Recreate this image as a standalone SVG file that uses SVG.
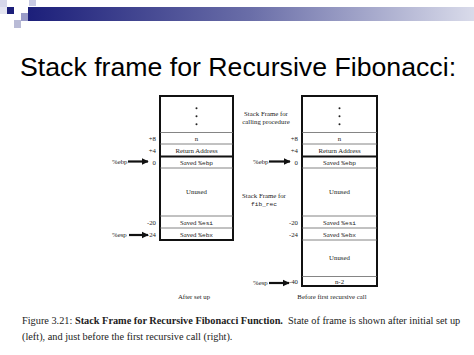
<svg xmlns="http://www.w3.org/2000/svg" width="474" height="355" viewBox="0 0 474 355">
<defs>
<linearGradient id="bar" x1="0" y1="0" x2="1" y2="0">
<stop offset="0" stop-color="#1c1f7a"/>
<stop offset="0.5" stop-color="#6a6ea8"/>
<stop offset="1" stop-color="#d9dbea"/>
</linearGradient>
<marker id="ah" viewBox="0 0 10 10" refX="9" refY="5" markerWidth="3.2" markerHeight="3.2" orient="auto" markerUnits="strokeWidth">
<path d="M0,0 L10,5 L0,10 z" fill="#111"/>
</marker>
<style>
.box{fill:#fff;stroke:#111;stroke-width:2}
.thin{stroke:#666;stroke-width:0.8}
.thick{stroke:#111;stroke-width:1.8}
.cell{font-family:"Liberation Serif",serif;font-size:6.8px;fill:#222;text-anchor:middle}
.reg{font-family:"Liberation Mono",monospace;font-size:6.2px}
.off{font-family:"Liberation Serif",serif;font-size:6.8px;fill:#222;text-anchor:end}
.lbl{font-family:"Liberation Serif",serif;font-size:6.8px;fill:#222}
.arr{stroke:#111;stroke-width:2.2;fill:none;marker-end:url(#ah)}
.dot{fill:#222}
</style>
</defs>
<rect width="474" height="355" fill="#fff"/>
<g id="decor">
<rect x="28" y="7" width="446" height="14" fill="url(#bar)"/>
<rect x="7" y="7" width="7" height="7" fill="#1c1f7a"/>
<rect x="0" y="0" width="7" height="7" fill="#d6d7ea"/>
<rect x="29" y="0" width="7" height="6" fill="#c9cbe3"/>
<rect x="21" y="13" width="7" height="8" fill="#9a9cc8"/>
<rect x="14" y="20" width="7" height="8" fill="#b9bbd6"/>
<rect x="0" y="7" width="7" height="7" fill="#e4e5f1"/>
</g>
<text id="title" x="20" y="76" font-family="Liberation Sans, Arial, sans-serif" font-size="26.7" fill="#000">Stack frame for Recursive Fibonacci:</text>

<g id="left-stack">
<rect class="box" x="160" y="96" width="73" height="144"/>
<line class="thin" x1="160" y1="132.5" x2="233" y2="132.5"/>
<line class="thin" x1="160" y1="144" x2="233" y2="144"/>
<line class="thick" x1="160" y1="156.5" x2="233" y2="156.5"/>
<line class="thin" x1="160" y1="168" x2="233" y2="168"/>
<line class="thin" x1="160" y1="216" x2="233" y2="216"/>
<line class="thin" x1="160" y1="228" x2="233" y2="228"/>
<circle class="dot" cx="196.5" cy="108.3" r="1"/>
<circle class="dot" cx="196.5" cy="116.2" r="1"/>
<circle class="dot" cx="196.5" cy="124.2" r="1"/>
<text class="cell" x="196.5" y="140.5">n</text>
<text class="cell" x="196.5" y="152.5">Return Address</text>
<text class="cell" x="196.5" y="164.5">Saved <tspan class="reg">%ebp</tspan></text>
<text class="cell" x="196.5" y="194">Unused</text>
<text class="cell" x="196.5" y="224.5">Saved <tspan class="reg">%esi</tspan></text>
<text class="cell" x="196.5" y="236.5">Saved <tspan class="reg">%ebx</tspan></text>
<text class="off" x="156" y="140.5">+8</text>
<text class="off" x="156" y="152.5">+4</text>
<text class="off" x="156" y="164.5">0</text>
<text class="off" x="156" y="224.5">-20</text>
<text class="off" x="156" y="236.5">-24</text>
<text class="lbl" x="194" y="299" text-anchor="middle">After set up</text>
</g>

<g id="right-stack">
<rect class="box" x="302" y="96" width="75" height="190"/>
<line class="thin" x1="302" y1="132.5" x2="377" y2="132.5"/>
<line class="thin" x1="302" y1="144" x2="377" y2="144"/>
<line class="thick" x1="302" y1="156.5" x2="377" y2="156.5"/>
<line class="thin" x1="302" y1="168" x2="377" y2="168"/>
<line class="thin" x1="302" y1="216" x2="377" y2="216"/>
<line class="thin" x1="302" y1="228" x2="377" y2="228"/>
<line class="thin" x1="302" y1="240" x2="377" y2="240"/>
<line class="thin" x1="302" y1="276.5" x2="377" y2="276.5"/>
<circle class="dot" cx="339.5" cy="108.3" r="1"/>
<circle class="dot" cx="339.5" cy="116.2" r="1"/>
<circle class="dot" cx="339.5" cy="124.2" r="1"/>
<text class="cell" x="339.5" y="140.5">n</text>
<text class="cell" x="339.5" y="152.5">Return Address</text>
<text class="cell" x="339.5" y="164.5">Saved <tspan class="reg">%ebp</tspan></text>
<text class="cell" x="339.5" y="194">Unused</text>
<text class="cell" x="339.5" y="224.5">Saved <tspan class="reg">%esi</tspan></text>
<text class="cell" x="339.5" y="236.5">Saved <tspan class="reg">%ebx</tspan></text>
<text class="cell" x="339.5" y="260">Unused</text>
<text class="cell" x="339.5" y="283.5">n-2</text>
<text class="off" x="298" y="140.5">+8</text>
<text class="off" x="298" y="152.5">+4</text>
<text class="off" x="298" y="164.5">0</text>
<text class="off" x="298" y="224.5">-20</text>
<text class="off" x="298" y="236.5">-24</text>
<text class="off" x="298" y="283.5">-40</text>
<text class="lbl" x="332" y="299" text-anchor="middle">Before first recursive call</text>
</g>

<g id="frame-labels">
<text class="lbl" x="266" y="115.5" text-anchor="middle">Stack Frame for</text>
<text class="lbl" x="266" y="123.5" text-anchor="middle">calling procedure</text>
<text class="lbl" x="264" y="197.5" text-anchor="middle">Stack Frame for</text>
<text class="lbl" x="264" y="205.5" text-anchor="middle"><tspan class="reg">fib_rec</tspan></text>
</g>

<g id="pointer-labels">
<text class="lbl reg" x="112" y="163.5">%ebp</text>
<text class="lbl reg" x="112" y="237">%esp</text>
<text class="lbl reg" x="253" y="163.5">%ebp</text>
<text class="lbl reg" x="253" y="285">%esp</text>
</g>

<g id="connectors">
<line class="arr" x1="128" y1="161.5" x2="148" y2="161.5"/>
<line class="arr" x1="129" y1="235" x2="148" y2="235"/>
<line class="arr" x1="269" y1="161.5" x2="290" y2="161.5"/>
<line class="arr" x1="269" y1="283" x2="289" y2="283"/>
</g>

<g id="caption" font-family="Liberation Serif, 'Times New Roman', serif" font-size="10.3" fill="#222">
<text x="22" y="324">Figure 3.21: <tspan font-weight="bold">Stack Frame for Recursive Fibonacci Function.</tspan>&#160; State of frame is shown after initial set up</text>
<text x="22" y="340">(left), and just before the first recursive call (right).</text>
</g>
</svg>
